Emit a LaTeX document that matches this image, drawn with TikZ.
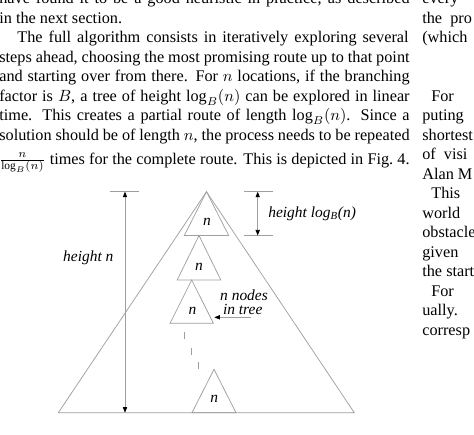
\documentclass[tikz,border=0pt]{standalone}
\usepackage{fontspec}
\setmainfont{Liberation Serif}
\usetikzlibrary{arrows.meta}
\newlength{\colw}
\setlength{\colw}{252.5pt}
\newlength{\indw}
\setlength{\indw}{240.8pt}

\begin{document}
\begin{tikzpicture}[x=0.6154pt,y=-0.6154pt]
\tikzset{body/.style={anchor=base west,inner sep=0pt,font=\fontsize{10}{12}\selectfont}}
\tikzset{figline/.style={draw=gray!75,line width=0.45pt}}
\tikzset{dimline/.style={figline,<->,>={Triangle[color=black,length=3.4pt,width=2.6pt]}}}
\tikzset{ptrline/.style={figline,->,>={Triangle[color=black,length=3.4pt,width=2.6pt]}}}
\tikzset{figlabel/.style={inner sep=0pt,font=\fontsize{9.5}{11}\selectfont\itshape}}
\useasboundingbox (0,0) rectangle (474,434);
\clip (0,0) rectangle (474,434);
\fill[white] (0,0) rectangle (474,434);

% left column of the page
\node[body] (l0) at (-1,3.5) {\makebox[\colw][s]{have found it to be a good heuristic in practice, as described}};
\node[body] (l1) at (-1,23) {in the next section.};
\node[body] (l2) at (17,42.5) {\makebox[\indw][s]{The full algorithm consists in iteratively exploring several}};
\node[body] (l3) at (-1,62) {\makebox[\colw][s]{steps ahead, choosing the most promising route up to that point}};
\node[body] (l4) at (-1,81.5) {\makebox[\colw][s]{and starting over from there. For $n$ locations, if the branching}};
\node[body] (l5) at (-1,101) {\makebox[\colw][s]{factor is $B$, a tree of height $\log_B(n)$ can be explored in linear}};
\node[body] (l6) at (-1,120.5) {\makebox[\colw][s]{time. This creates a partial route of length $\log_B(n)$. Since a}};
\node[body] (l7) at (-1,140) {\makebox[\colw][s]{solution should be of length $n$, the process needs to be repeated}};
\node[body] (l8) at (-1,164) {\makebox[\colw][s]{$\frac{n}{\log_B(n)}$ times for the complete route. This is depicted in Fig.~4.}};

% right column of the page
\node[body] (r0) at (422,3.5) {every};
\node[body] (r1) at (422,23) {the\hspace{5pt}pro};
\node[body] (r2) at (422,42.5) {(which};
\node[body] (r5) at (431,101) {For};
\node[body] (r6) at (422,120.5) {puting};
\node[body] (r7) at (422,140) {shortest};
\node[body] (r8) at (422,159.5) {of\hspace{5pt}visi};
\node[body] (r9) at (422,179) {Alan M};
\node[body] (r10) at (431,198.5) {This};
\node[body] (r11) at (422,218) {world};
\node[body] (r12) at (422,237.5) {obstacle};
\node[body] (r13) at (422,257) {given};
\node[body] (r14) at (422,276.5) {the start};
\node[body] (r15) at (431,296) {For};
\node[body] (r16) at (422,315.5) {ually.};
\node[body] (r17) at (422,335) {corresp};

% the whole tree
\coordinate (apex) at (206.5,191.7);
\coordinate (baseL) at (58.3,412.7);
\coordinate (baseR) at (354.3,412.7);
\draw[figline] (apex) -- (baseL) -- (baseR) -- cycle;

% subtrees of height log_B(n)
\draw[figline] (apex) -- ++(-22.2,43.8) coordinate(s1L) -- ++(44.4,0) coordinate(s1R) -- cycle;
\node[figlabel] (n1) at (207,222) {n};
\draw[figline] (199,235.5) coordinate(s2) -- ++(-21.8,44.5) -- ++(43.6,0) -- cycle;
\node[figlabel] (n2) at (199,267) {n};
\draw[figline] (191.7,280) coordinate(s3) -- ++(-21.7,43.3) -- ++(43.4,0) coordinate(s3R) -- cycle;
\node[figlabel] (n3) at (192.5,311) {n};
\draw[figline] (214,369.3) coordinate(s4) -- ++(-22,43.4) -- ++(44,0) -- cycle;
\node[figlabel] (n4) at (214.3,399) {n};
\draw[figline] (184.3,331.7) -- ++(0,7.6);
\draw[figline] (191.7,347.7) -- ++(0,7.3);
\draw[figline] (198.7,361.7) -- ++(0,7.6);

% height n
\draw[figline] (110,191.7) -- (139.3,191.7);
\coordinate (hnTop) at (125,191.7);
\coordinate (hnBot) at (125,412.7);
\draw[dimline] (hnTop) -- (hnBot);
\node[figlabel] (hn) at (88.3,258) {height n};

% height log_B(n)
\draw[figline] (244,191.7) coordinate(hlTopL) -- (273.3,191.7);
\draw[figline] (244,235.5) coordinate(hlBotL) -- (273.3,235.5);
\coordinate (hlTop) at (257.7,191.7);
\coordinate (hlBot) at (257.7,235.5);
\draw[dimline] (hlTop) -- (hlBot);
\node[figlabel,anchor=west] (hl) at (268,213.3) {height log\textsubscript{B}(n)};

% n nodes in tree
\node[figlabel] (nn) at (244,295) {n nodes};
\node[figlabel] (it) at (242.7,309.3) {in tree};
\coordinate (ptrStart) at (250.7,317.3);
\coordinate (ptrEnd) at (214.3,317.3);
\draw[ptrline] (ptrStart) -- (ptrEnd);
\end{tikzpicture}
\end{document}
